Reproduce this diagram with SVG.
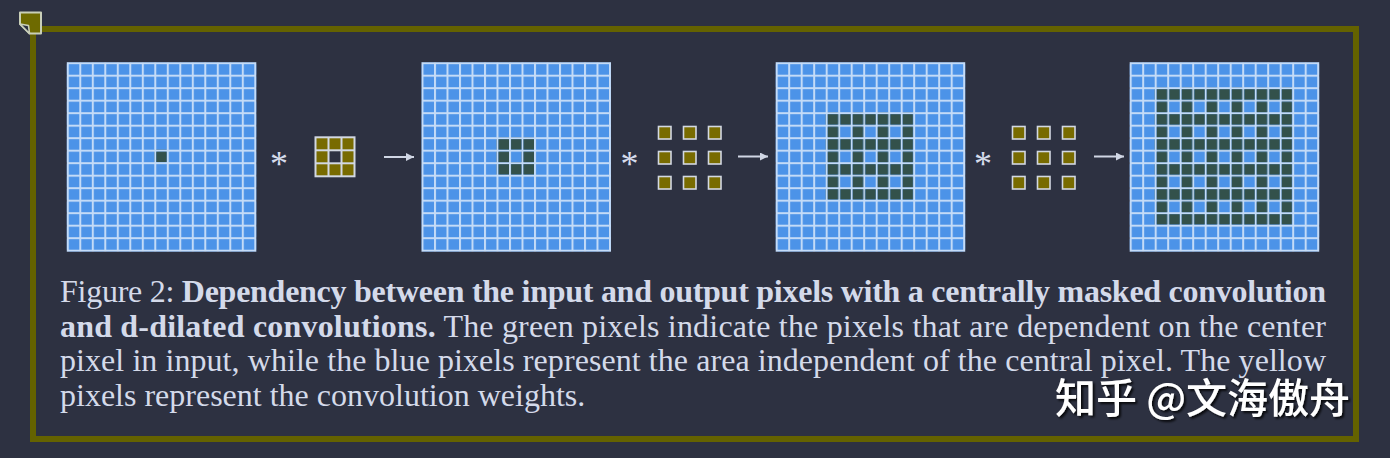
<svg xmlns="http://www.w3.org/2000/svg" width="1390" height="458" viewBox="0 0 1390 458">
  <style>
    .gridbg { fill: #c4dbf7; }
    .kbg { fill: #d2d8e2; }
    .kcell { fill: #786b00; }
    .dot { fill: #786b00; stroke: #d2d8e2; stroke-width: 1.6; }
    .op { font-family: "Liberation Serif", serif; font-size: 36px; fill: #d6dcec; text-anchor: middle; }
    .cap { font-family: "Liberation Serif", serif; font-size: 32px; fill: #d4daea; }
    .b { font-weight: bold; }
    .arrow { stroke: #d0d6e4; stroke-width: 2; fill: none; marker-end: url(#ah); }
    .wm { font-family: "Noto Sans CJK SC", "Noto Sans", sans-serif; font-size: 41px; font-weight: 500; fill: #ffffff; filter: url(#shadow); }
  </style>
  <defs>
    <pattern id="blue" width="12.5" height="12.5" patternUnits="userSpaceOnUse">
      <rect x="2" y="2" width="10.5" height="10.5" fill="#4c93e8"/>
    </pattern>
    <pattern id="green" width="12.5" height="12.5" patternUnits="userSpaceOnUse">
      <rect x="2" y="2" width="10.5" height="10.5" fill="#33514b"/>
    </pattern>
    <pattern id="dil" width="25" height="25" patternUnits="userSpaceOnUse">
      <rect x="2" y="2" width="10.5" height="10.5" fill="#33514b"/>
      <rect x="14.5" y="2" width="10.5" height="10.5" fill="#33514b"/>
      <rect x="2" y="14.5" width="10.5" height="10.5" fill="#33514b"/>
    </pattern>
    <marker id="ah" viewBox="0 0 8 8" refX="8" refY="4" markerWidth="8" markerHeight="8" markerUnits="userSpaceOnUse" orient="auto">
      <path d="M0,0 L8,4 L0,8 Z" fill="#d0d6e4"/>
    </marker>
    <filter id="shadow" x="-10%" y="-20%" width="120%" height="150%">
      <feDropShadow dx="2" dy="2" stdDeviation="1" flood-color="#000000" flood-opacity="0.8"/>
    </filter>
  </defs>

  <rect width="1390" height="458" fill="#2d3141"/>

  <rect id="frame" x="33" y="29" width="1323" height="410" fill="none" stroke="#646200" stroke-width="6"/>

  <g id="corner-icon">
    <path d="M20,12.5 H41 V33.5 H29.5 L20,24 Z" fill="#6e6a00" stroke="#c9cfb8" stroke-width="2" stroke-linejoin="round"/>
    <path d="M20,24 L28.5,25.5 L29.5,33.5 Z" fill="#2d3141" stroke="#c9cfb8" stroke-width="1.6" stroke-linejoin="round"/>
  </g>

  <g id="grid1" transform="translate(66.8,62.2)">
    <rect class="gridbg" width="189.5" height="189.5"/>
    <rect width="189.5" height="189.5" fill="url(#blue)"/>
    <rect x="87.5" y="87.5" width="12.5" height="12.5" fill="url(#green)"/>
  </g>

  <g id="kernel1" transform="translate(314.5,136.3)">
    <rect class="kbg" width="41" height="41"/>
    <rect class="kcell" x="2" y="2" width="11" height="11"/>
    <rect class="kcell" x="15" y="2" width="11" height="11"/>
    <rect class="kcell" x="28" y="2" width="11" height="11"/>
    <rect class="kcell" x="2" y="15" width="11" height="11"/>
    <rect x="15" y="15" width="11" height="11" fill="#2d3141"/>
    <rect class="kcell" x="28" y="15" width="11" height="11"/>
    <rect class="kcell" x="2" y="28" width="11" height="11"/>
    <rect class="kcell" x="15" y="28" width="11" height="11"/>
    <rect class="kcell" x="28" y="28" width="11" height="11"/>
  </g>

  <g id="grid2" transform="translate(421.5,62.2)">
    <rect class="gridbg" width="189.5" height="189.5"/>
    <rect width="189.5" height="189.5" fill="url(#blue)"/>
    <rect x="75" y="75" width="37.5" height="12.5" fill="url(#green)"/>
    <rect x="75" y="100" width="37.5" height="12.5" fill="url(#green)"/>
    <rect x="75" y="87.5" width="12.5" height="12.5" fill="url(#green)"/>
    <rect x="100" y="87.5" width="12.5" height="12.5" fill="url(#green)"/>
  </g>

  <g id="kernel2">
    <rect class="dot" x="658.5" y="126.5" width="12.5" height="12.5"/>
    <rect class="dot" x="683.5" y="126.5" width="12.5" height="12.5"/>
    <rect class="dot" x="708.5" y="126.5" width="12.5" height="12.5"/>
    <rect class="dot" x="658.5" y="151.5" width="12.5" height="12.5"/>
    <rect class="dot" x="683.5" y="151.5" width="12.5" height="12.5"/>
    <rect class="dot" x="708.5" y="151.5" width="12.5" height="12.5"/>
    <rect class="dot" x="658.5" y="176.5" width="12.5" height="12.5"/>
    <rect class="dot" x="683.5" y="176.5" width="12.5" height="12.5"/>
    <rect class="dot" x="708.5" y="176.5" width="12.5" height="12.5"/>
  </g>

  <g id="grid3" transform="translate(775.7,62.2)">
    <rect class="gridbg" width="189.5" height="189.5"/>
    <rect width="189.5" height="189.5" fill="url(#blue)"/>
    <rect x="50" y="50" width="87.5" height="87.5" fill="url(#dil)"/>
  </g>

  <g id="kernel3">
    <rect class="dot" x="1012.5" y="126.5" width="12.5" height="12.5"/>
    <rect class="dot" x="1037.5" y="126.5" width="12.5" height="12.5"/>
    <rect class="dot" x="1062.5" y="126.5" width="12.5" height="12.5"/>
    <rect class="dot" x="1012.5" y="151.5" width="12.5" height="12.5"/>
    <rect class="dot" x="1037.5" y="151.5" width="12.5" height="12.5"/>
    <rect class="dot" x="1062.5" y="151.5" width="12.5" height="12.5"/>
    <rect class="dot" x="1012.5" y="176.5" width="12.5" height="12.5"/>
    <rect class="dot" x="1037.5" y="176.5" width="12.5" height="12.5"/>
    <rect class="dot" x="1062.5" y="176.5" width="12.5" height="12.5"/>
  </g>

  <g id="grid4" transform="translate(1129.7,62.2)">
    <rect class="gridbg" width="189.5" height="189.5"/>
    <rect width="189.5" height="189.5" fill="url(#blue)"/>
    <rect x="25" y="25" width="137.5" height="137.5" fill="url(#dil)"/>
  </g>

  <g id="operators">
    <text class="op" x="279" y="175.5">*</text>
    <text class="op" x="629.5" y="175.5">*</text>
    <text class="op" x="983" y="175.5">*</text>
  </g>

  <g id="connectors">
    <line class="arrow" x1="384" y1="157" x2="414" y2="157"/>
    <line class="arrow" x1="738" y1="156.5" x2="768" y2="156.5"/>
    <line class="arrow" x1="1094" y1="156.5" x2="1124" y2="156.5"/>
  </g>

  <g id="caption">
    <text class="cap" x="60" y="302" textLength="1266" lengthAdjust="spacing">Figure 2: <tspan class="b">Dependency between the input and output pixels with a centrally masked convolution</tspan></text>
    <text class="cap" x="60" y="336.5" textLength="1266" lengthAdjust="spacing"><tspan class="b">and d-dilated convolutions.</tspan> The green pixels indicate the pixels that are dependent on the center</text>
    <text class="cap" x="60" y="371" textLength="1266" lengthAdjust="spacing">pixel in input, while the blue pixels represent the area independent of the central pixel. The yellow</text>
    <text class="cap" x="60" y="405.5">pixels represent the convolution weights.</text>
  </g>

  <g id="watermark">
    <text class="wm" x="1055" y="412.5">知乎 @文海傲舟</text>
  </g>
</svg>
